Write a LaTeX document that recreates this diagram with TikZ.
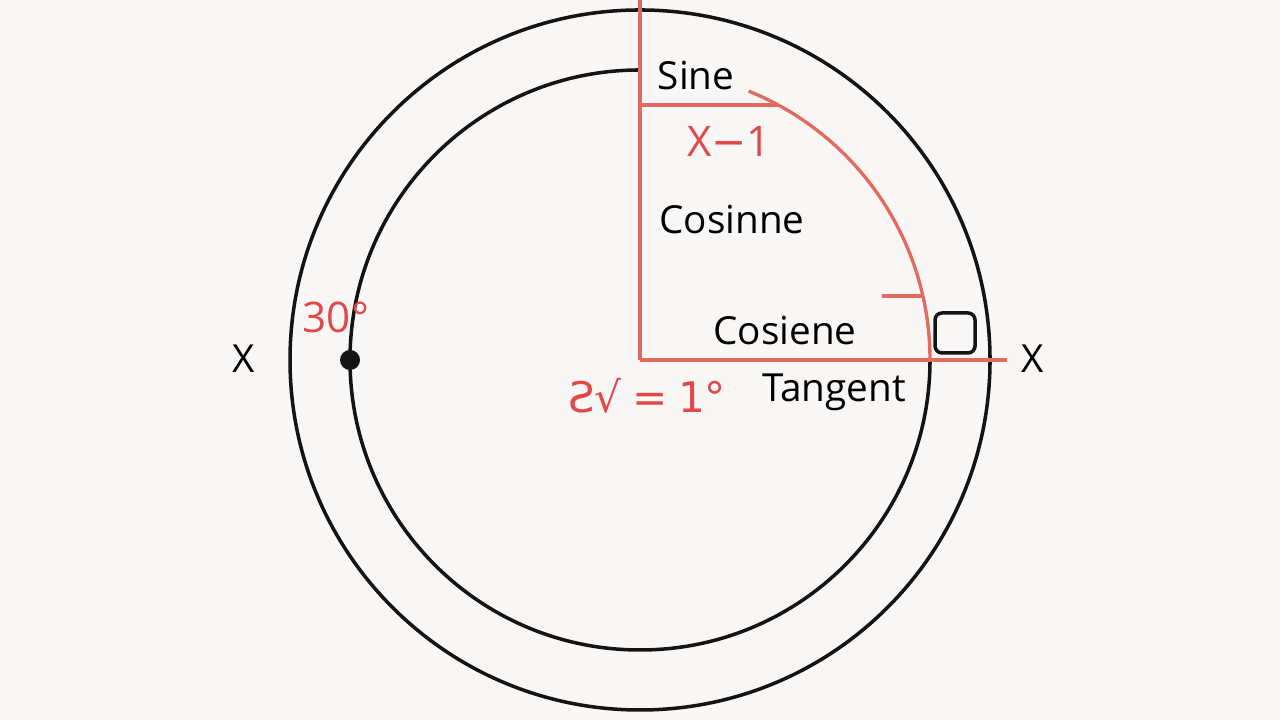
\documentclass[tikz,border=0pt]{standalone}
\usepackage{fontspec}
\setmainfont{Open Sans}
\newfontfamily\symfont{DejaVu Sans}
\usetikzlibrary{calc}
\definecolor{redline}{RGB}{226,106,94}
\definecolor{redtext}{RGB}{226,72,72}
\definecolor{paper}{RGB}{248,247,245}
\tikzset{
  circ/.style={line width=1pt, black!92},
  redl/.style={line width=0.95pt, redline},
  lab/.style={font=\fontsize{11}{13}\selectfont, anchor=base, inner sep=0pt},
  rlab/.style={lab, text=redtext, font=\fontsize{12}{14}\selectfont}
}

\begin{document}
\begin{tikzpicture}
\fill[paper] (0,0) rectangle (12.8,7.2);
\useasboundingbox (0,0) rectangle (12.8,7.2);

\coordinate (O) at (6.4,3.6);
\coordinate (top) at (6.4,7.2);
\coordinate (end) at (10.07,3.6);

\draw[circ] (O) circle (3.5);
\draw[circ] (O) ++(90:2.9) arc (90:360:2.9);

\draw[redl] (top) -- (O);
\draw[redl] (O) -- (end);
\draw[redl] (O) ++(68:2.9) coordinate (arcstart) arc (68:0:2.9);
\draw[redl] (6.4,6.15) -- (7.78,6.15);
\draw[redl] (8.82,4.24) -- (9.23,4.24);

\draw[circ, rounded corners=2pt] (9.35,3.67) rectangle (9.75,4.07);
\fill[black!92] (O) ++(180:2.9) coordinate (P) circle (0.1);

\draw(6.96,6.30) node[lab] (sine) {Sine};
\draw(7.29,5.63) node[rlab] (xmin) {X{\symfont −}1};
\draw(7.32,4.86) node[lab] (cosinne) {Cosinne};
\draw(7.85,3.75) node[lab] (cosiene) {Cosiene};
\draw(8.34,3.18) node[lab] (tangent) {Tangent};
\draw(3.36,3.87) node[rlab] (deg) {30°};
\draw(6.47,3.07) node[rlab] (eq) {\symfont Ƨ√\hspace{3pt}=\hspace{3pt}1°};
\draw(2.44,3.47) node[lab] (xleft) {X};
\draw(10.33,3.47) node[lab] (xright) {X};

\end{tikzpicture}
\end{document}
